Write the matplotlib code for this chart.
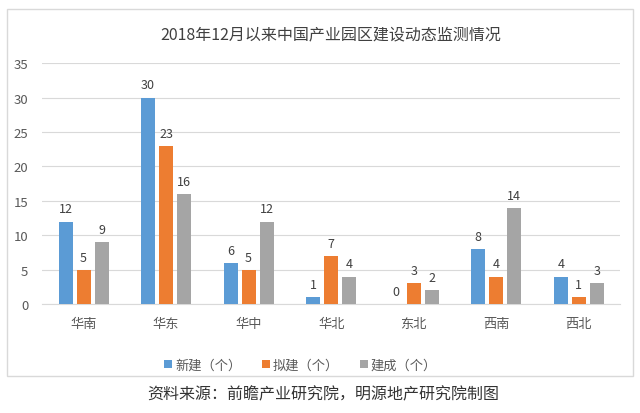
import matplotlib.pyplot as plt
import numpy as np
from matplotlib.patches import Rectangle

plt.rcParams['font.family'] = ['Noto Sans CJK SC', 'DejaVu Sans']

# data
regions = ['华南', '华东', '华中', '华北', '东北', '西南', '西北']
new_built = [12, 30, 6, 1, 0, 8, 4]
planned = [5, 23, 5, 7, 3, 4, 1]
completed = [9, 16, 12, 4, 2, 14, 3]
series_names = ['新建（个）', '拟建（个）', '建成（个）']
colors = ['#5B9BD5', '#ED7D31', '#A5A5A5']

fig = plt.figure(figsize=(6.4, 4.14), dpi=100)
ax = fig.add_axes([0.066, 0.263, 0.903, 0.582])

x = np.arange(len(regions))
w = 0.17
step = 0.218
for i, (vals, name, c) in enumerate(zip([new_built, planned, completed], series_names, colors)):
    bars = ax.bar(x + (i - 1) * step, vals, width=w, color=c, label=name, zorder=3)
    for b, v in zip(bars, vals):
        ax.text(b.get_x() + b.get_width() / 2, v + 0.9, str(v), ha='center', va='bottom',
                fontsize=9, color='#404040')

ax.set_xlim(-0.5, len(regions) - 0.5)
ax.set_ylim(0, 35)
ax.set_yticks(range(0, 36, 5))
ax.set_xticks(x)
ax.set_xticklabels(regions)
ax.grid(axis='y', color='#D9D9D9', linewidth=0.8, zorder=0)
for s in ['top', 'right', 'left']:
    ax.spines[s].set_visible(False)
ax.spines['bottom'].set_color('#D9D9D9')
ax.tick_params(axis='both', length=0, labelsize=9.5, colors='#595959')
ax.tick_params(axis='x', pad=9)
ax.tick_params(axis='y', pad=10)

ax.set_title('2018年12月以来中国产业园区建设动态监测情况', fontsize=11.5, color='#404040', pad=18)

fig.legend(loc='center', bbox_to_anchor=(0.47, 0.115), ncol=3, frameon=False,
           fontsize=9.5, handlelength=0.6, handleheight=0.6, handletextpad=0.2,
           columnspacing=1.6, labelcolor='#595959')

fig.patches.append(Rectangle((0.011, 0.09), 0.978, 0.885, transform=fig.transFigure,
                             fill=False, edgecolor='#D9D9D9', linewidth=1))

fig.text(0.505, 0.045, '资料来源：前瞻产业研究院，明源地产研究院制图', ha='center', va='center',
         fontsize=11.5, color='#333333')

fig.savefig('out.png', dpi=100, facecolor='white')
